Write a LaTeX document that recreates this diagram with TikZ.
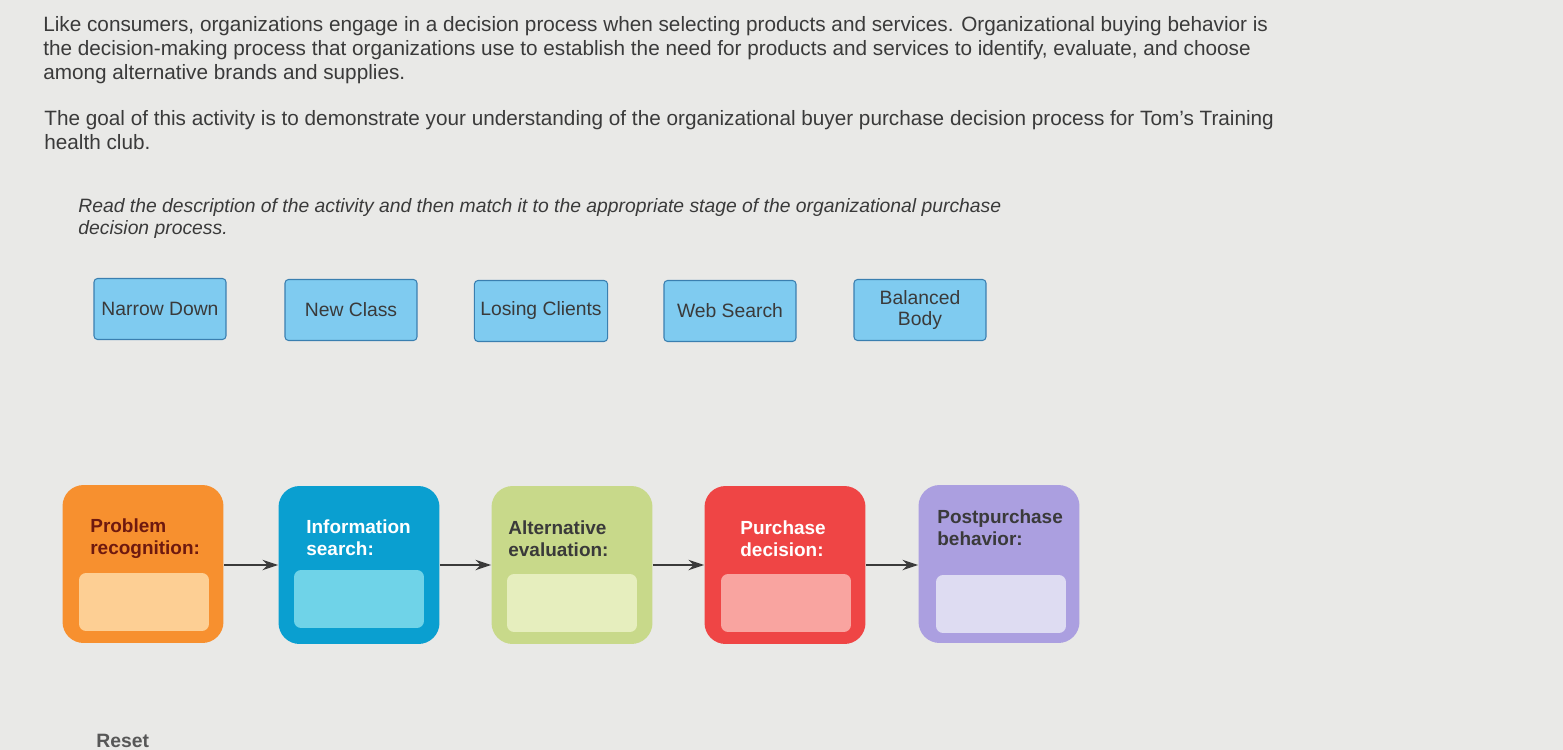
\documentclass[tikz,border=0pt]{standalone}
\usepackage{fontspec}
\setmainfont{Liberation Sans}
\usetikzlibrary{arrows.meta}
\definecolor{bg}{HTML}{E9E9E7}
\definecolor{txt}{HTML}{3A3A3A}
\definecolor{chipfill}{HTML}{7FCBF0}
\definecolor{chipdraw}{HTML}{3A7FB0}
\tikzset{
  x=0.02cm,y=-0.02cm,
  para/.style={anchor=north west,align=left,text=txt,font=\fontsize{11.8}{13.6}\selectfont,inner sep=0pt},
  chip/.style={draw=chipdraw,fill=chipfill,rounded corners=2pt,minimum width=2.64cm,minimum height=1.22cm,align=center,text=txt,font=\fontsize{11}{12.5}\selectfont,line width=0.6pt},
  stage/.style={rounded corners=12pt,minimum width=3.22cm,minimum height=3.16cm},
  slot/.style={rounded corners=4pt,minimum width=2.6cm,minimum height=1.16cm},
  lab/.style={anchor=north west,align=left,font=\bfseries\fontsize{10.8}{12.8}\selectfont,inner sep=0pt},
  flow/.style={-{Stealth[length=9pt,width=6pt]},draw=txt,line width=0.8pt}
}
\begin{document}
\begin{tikzpicture}
\fill[bg] (0,0) rectangle (1563,750);
\useasboundingbox (0,0) rectangle (1563,750);
\node[para] (p1) at (43,16) {Like consumers, organizations engage in a decision process when selecting products and services. Organizational buying behavior is\\the decision-making process that organizations use to establish the need for products and services to identify, evaluate, and choose\\among alternative brands and supplies.};
\node[para] (p2) at (44,110) {The goal of this activity is to demonstrate your understanding of the organizational buyer purchase decision process for Tom's Training\\health club.};
\node[para,font=\itshape\fontsize{11}{12.4}\selectfont] (p3) at (78,198) {Read the description of the activity and then match it to the appropriate stage of the organizational purchase\\decision process.};
\node[chip] (c1) at (160,309) {Narrow Down};
\node[chip] (c2) at (351,310) {New Class};
\node[chip] (c3) at (541,311) {Losing Clients};
\node[chip] (c4) at (730,311) {Web Search};
\node[chip] (c5) at (920,310) {Balanced\\Body};
% stages
\node[stage,fill={rgb,255:red,247;green,144;blue,47}] (s1) at (143,564) {};
\node[slot,fill={rgb,255:red,253;green,207;blue,148}] (t1) at (144,602) {};
\node[lab,text={rgb,255:red,110;green,25;blue,15}] (l1) at (90,518) {Problem\\recognition:};
\node[stage,fill={rgb,255:red,10;green,159;blue,208}] (s2) at (359,565) {};
\node[slot,fill={rgb,255:red,111;green,211;blue,232}] (t2) at (359,599) {};
\node[lab,text=white] (l2) at (306,519) {Information\\search:};
\node[stage,fill={rgb,255:red,200;green,217;blue,138}] (s3) at (572,565) {};
\node[slot,fill={rgb,255:red,230;green,238;blue,190}] (t3) at (572,603) {};
\node[lab,text=txt] (l3) at (508,520) {Alternative\\evaluation:};
\node[stage,fill={rgb,255:red,239;green,69;blue,69}] (s4) at (785,565) {};
\node[slot,fill={rgb,255:red,249;green,164;blue,160}] (t4) at (786,603) {};
\node[lab,text=white] (l4) at (740,520) {Purchase\\decision:};
\node[stage,fill={rgb,255:red,171;green,159;blue,224}] (s5) at (999,564) {};
\node[slot,fill={rgb,255:red,222;green,220;blue,242}] (t5) at (1001,604) {};
\node[lab,text=txt] (l5) at (937,509) {Postpurchase\\behavior:};
\draw[flow] (s1.east |- 0,565) -- (s2.west |- 0,565);
\draw[flow] (s2.east |- 0,565) -- (s3.west |- 0,565);
\draw[flow] (s3.east |- 0,565) -- (s4.west |- 0,565);
\draw[flow] (s4.east |- 0,565) -- (s5.west |- 0,565);
\node[anchor=north west,inner sep=0pt,font=\bfseries\fontsize{11}{13}\selectfont,text=txt!85] (r) at (96,734) {Reset};
\end{tikzpicture}
\end{document}
